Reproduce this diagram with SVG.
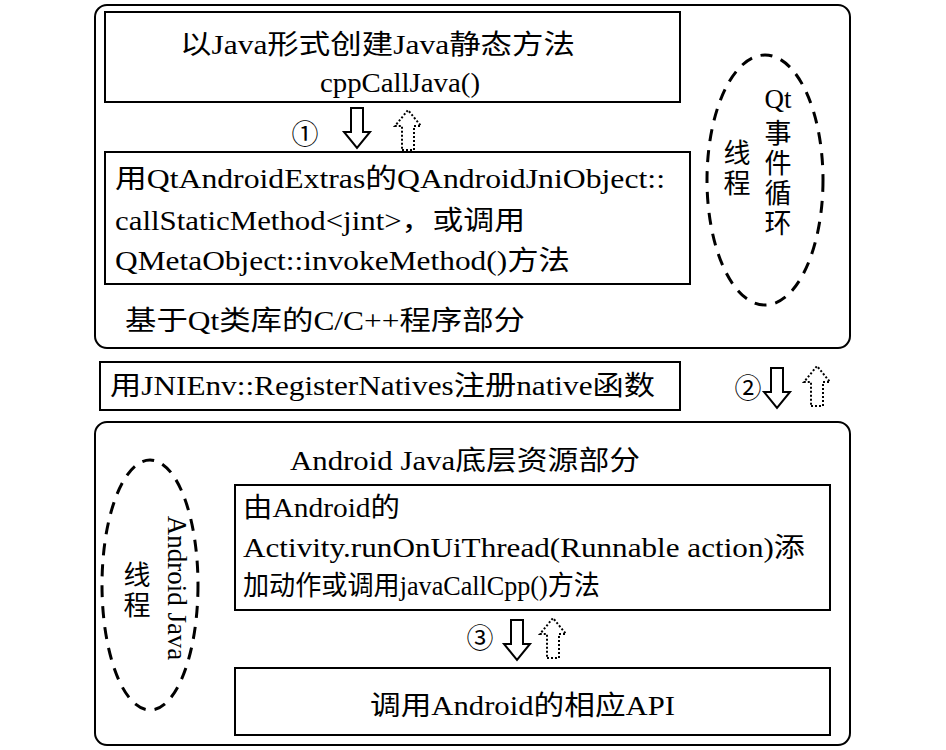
<svg xmlns="http://www.w3.org/2000/svg" width="946" height="750" viewBox="0 0 946 750">
<defs>
<style>
text{font-family:"Liberation Serif","Noto Sans CJK SC",serif;font-size:27px;fill:#000}
.b{fill:#fff;stroke:#000;stroke-width:2}
.e{fill:none;stroke:#000;stroke-width:3;stroke-dasharray:12,9}
.ad{fill:#fff;stroke:#000;stroke-width:2}
.au{fill:#fff;stroke:#000;stroke-width:2;stroke-dasharray:2,2}
</style>
<path id="down" d="M-6,0 H6 V24 H13 L0,40 L-13,24 H-6 Z"/>
<path id="up" d="M-6,40 H6 V16 H13 L0,0 L-13,16 H-6 Z"/>
</defs>
<rect width="946" height="750" fill="#fff"/>
<g id="top">
<rect class="b" x="95" y="5" width="755" height="343" rx="12"/>
<text x="125" y="330" textLength="400" lengthAdjust="spacingAndGlyphs">基于Qt类库的C/C++程序部分</text>
</g>
<g id="box1">
<rect class="b" x="105" y="12" width="575" height="90"/>
<text x="180" y="54" textLength="395" lengthAdjust="spacingAndGlyphs">以Java形式创建Java静态方法</text>
<text x="320" y="92" textLength="160" lengthAdjust="spacingAndGlyphs">cppCallJava()</text>
</g>
<g id="box2">
<rect class="b" x="105" y="152" width="585" height="132"/>
<text x="115" y="188" textLength="550" lengthAdjust="spacingAndGlyphs">用QtAndroidExtras的QAndroidJniObject::</text>
<text x="115" y="230" textLength="410" lengthAdjust="spacingAndGlyphs">callStaticMethod&lt;jint&gt;，或调用</text>
<text x="115" y="270" textLength="455" lengthAdjust="spacingAndGlyphs">QMetaObject::invokeMethod()方法</text>
</g>
<g id="qtloop">
<ellipse class="e" cx="765" cy="180" rx="58" ry="125"/>
<text x="778" y="108" text-anchor="middle">Qt</text>
<text x="778" y="143" text-anchor="middle">事</text>
<text x="778" y="173" text-anchor="middle">件</text>
<text x="778" y="203" text-anchor="middle">循</text>
<text x="778" y="233" text-anchor="middle">环</text>
<text x="737" y="163" text-anchor="middle">线</text>
<text x="737" y="193" text-anchor="middle">程</text>
</g>
<g id="mid">
<rect class="b" x="100" y="362" width="580" height="48"/>
<text x="110" y="395" textLength="545" lengthAdjust="spacingAndGlyphs">用JNIEnv::RegisterNatives注册native函数</text>
</g>
<g id="bottom">
<rect class="b" x="95" y="422" width="755" height="323" rx="12"/>
<text x="290" y="470" textLength="350" lengthAdjust="spacingAndGlyphs">Android Java底层资源部分</text>
</g>
<g id="box3">
<rect class="b" x="235" y="485" width="595" height="125"/>
<text x="243" y="517" textLength="157" lengthAdjust="spacingAndGlyphs">由Android的</text>
<text x="243" y="557" textLength="562" lengthAdjust="spacingAndGlyphs">Activity.runOnUiThread(Runnable action)添</text>
<text x="243" y="595" textLength="357" lengthAdjust="spacingAndGlyphs">加动作或调用javaCallCpp()方法</text>
</g>
<g id="box4">
<rect class="b" x="235" y="668" width="595" height="67"/>
<text x="370" y="715" textLength="305" lengthAdjust="spacingAndGlyphs">调用Android的相应API</text>
</g>
<g id="andthread">
<ellipse class="e" cx="150" cy="585" rx="48" ry="125"/>
<text transform="translate(168,588) rotate(90)" text-anchor="middle">Android Java</text>
<text x="137" y="585" text-anchor="middle">线</text>
<text x="137" y="615" text-anchor="middle">程</text>
</g>
<g id="connectors">
<text x="305" y="144" text-anchor="middle">①</text>
<use href="#down" class="ad" x="357" y="108"/>
<use href="#up" class="au" x="408" y="110"/>
<text x="748" y="398" text-anchor="middle">②</text>
<use href="#down" class="ad" x="777" y="368"/>
<use href="#up" class="au" x="817" y="366"/>
<text x="480" y="648" text-anchor="middle">③</text>
<use href="#down" class="ad" x="517" y="620"/>
<use href="#up" class="au" x="553" y="618"/>
</g>
</svg>
